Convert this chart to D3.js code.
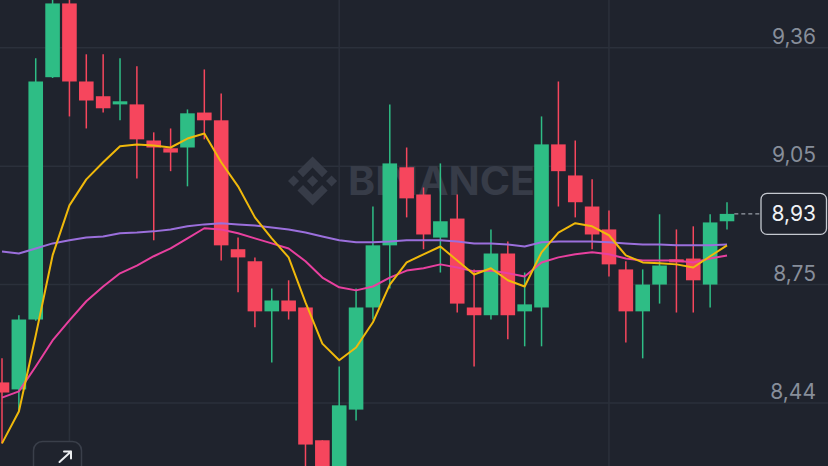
<!DOCTYPE html>
<html>
<head>
<meta charset="utf-8">
<script src="https://cdn.jsdelivr.net/npm/d3@7"></script>
<style>
  html, body { margin: 0; padding: 0; background: #1f232d; overflow: hidden; }
  svg { display: block; }
</style>
</head>
<body>
<svg id="chart" width="828" height="466"></svg>
<script>
// ---- Data ----
const openV  = [8.496, 8.478, 8.658, 9.282, 9.472, 9.271, 9.233, 9.212, 9.212, 9.119, 9.099, 9.101, 9.191, 9.171, 8.839, 8.808, 8.679, 8.707, 8.689, 8.347, 8.244, 8.426, 8.689, 8.849, 9.050, 8.980, 8.869, 8.918, 8.689, 8.669, 8.828, 8.679, 8.689, 9.109, 9.029, 8.949, 8.890, 8.787, 8.679, 8.748, 8.813, 8.815, 8.748, 8.911];
const highV  = [8.558, 8.669, 9.331, 9.490, 9.490, 9.341, 9.341, 9.331, 9.310, 9.140, 9.150, 9.199, 9.302, 9.240, 8.869, 8.818, 8.738, 8.759, 8.689, 8.347, 8.537, 8.738, 8.949, 9.212, 9.101, 8.998, 9.060, 8.980, 8.787, 8.890, 8.859, 8.779, 9.181, 9.271, 9.119, 9.019, 8.939, 8.808, 8.787, 8.929, 8.890, 8.898, 8.929, 8.960];
const lowV   = [8.339, 8.424, 8.655, 9.280, 9.181, 9.150, 9.191, 9.171, 9.021, 8.862, 9.040, 9.001, 9.122, 8.810, 8.728, 8.638, 8.547, 8.658, 8.269, 8.220, 8.220, 8.398, 8.658, 8.738, 8.921, 8.839, 8.779, 8.676, 8.537, 8.658, 8.607, 8.589, 8.589, 8.949, 8.921, 8.839, 8.769, 8.599, 8.558, 8.699, 8.676, 8.676, 8.689, 8.890];
const closeV = [8.470, 8.658, 9.271, 9.472, 9.271, 9.222, 9.202, 9.220, 9.122, 9.101, 9.088, 9.189, 9.171, 8.849, 8.818, 8.679, 8.707, 8.679, 8.336, 8.244, 8.437, 8.689, 8.849, 9.060, 8.970, 8.877, 8.911, 8.699, 8.669, 8.828, 8.669, 8.697, 9.109, 9.040, 8.960, 8.877, 8.800, 8.679, 8.748, 8.797, 8.805, 8.759, 8.908, 8.930];

const ma7  = [8.339, 8.421, 8.617, 8.823, 8.952, 9.019, 9.063, 9.104, 9.109, 9.106, 9.101, 9.124, 9.137, 9.063, 9.001, 8.921, 8.867, 8.818, 8.702, 8.596, 8.553, 8.586, 8.651, 8.748, 8.805, 8.826, 8.846, 8.810, 8.774, 8.790, 8.759, 8.743, 8.831, 8.882, 8.906, 8.898, 8.875, 8.823, 8.805, 8.803, 8.800, 8.792, 8.821, 8.849];
const ma25 = [8.457, 8.473, 8.537, 8.604, 8.656, 8.705, 8.743, 8.777, 8.797, 8.821, 8.841, 8.867, 8.893, 8.890, 8.880, 8.867, 8.854, 8.841, 8.808, 8.766, 8.741, 8.733, 8.743, 8.766, 8.784, 8.790, 8.800, 8.792, 8.782, 8.784, 8.777, 8.769, 8.805, 8.818, 8.826, 8.831, 8.826, 8.815, 8.810, 8.810, 8.810, 8.805, 8.815, 8.823];
const ma99 = [8.833, 8.828, 8.841, 8.854, 8.862, 8.869, 8.872, 8.880, 8.882, 8.885, 8.890, 8.898, 8.903, 8.906, 8.903, 8.900, 8.895, 8.890, 8.882, 8.872, 8.862, 8.857, 8.857, 8.859, 8.862, 8.862, 8.862, 8.859, 8.854, 8.854, 8.851, 8.846, 8.857, 8.859, 8.859, 8.859, 8.857, 8.854, 8.851, 8.851, 8.849, 8.849, 8.849, 8.851];

const yTicks = [9.358, 9.053, 8.748, 8.443];
const xGridIdx = [4, 20, 36];
const lastPrice = 8.93;

// ---- Setup ----
const W = 828, H = 466;
const svg = d3.select("#chart");
const n = openV.length;
const x = d3.scaleLinear().domain([0, n - 1]).range([2, 727]);
const y = d3.scaleLinear().domain([8.443, 9.358]).range([403, 47.7]);
const bw = 14.6;
const fmt = v => d3.format(".2f")(v).replace(".", ",");

const BG = "#1f232d", GRID = "#2b303b";
const UP = "#2ebd85", DOWN = "#f6465d";

svg.append("rect").attr("width", W).attr("height", H).attr("fill", BG);

// grid
svg.append("g").selectAll("line").data(yTicks).join("line")
  .attr("x1", 0).attr("x2", W)
  .attr("y1", d => y(d)).attr("y2", d => y(d))
  .attr("stroke", GRID).attr("stroke-width", 1.5);
svg.append("g").selectAll("line").data(xGridIdx).join("line")
  .attr("x1", d => x(d)).attr("x2", d => x(d))
  .attr("y1", 0).attr("y2", H)
  .attr("stroke", GRID).attr("stroke-width", 1.5);

// watermark
const wm = svg.append("g").attr("fill", "#373c48");
const logo = wm.append("g").attr("transform", "translate(288,156.5) scale(0.388)");
["M38.73 53.2l24.59-24.58 24.6 24.6 14.3-14.31L63.32 0 24.42 38.9l14.31 14.3z",
 "M0 63.31l14.3-14.31 14.31 14.31-14.31 14.3z",
 "M38.73 73.41l24.59 24.59 24.6-24.6 14.31 14.29-38.9 38.91-38.91-38.88-.02-.02z",
 "M98 63.31l14.3-14.31 14.31 14.3-14.31 14.32z",
 "M77.83 63.3L63.32 48.78 52.59 59.51l-1.24 1.23-2.54 2.54-.02.02.02.03 14.51 14.5 14.51-14.52.01-.01z"
].forEach(p => logo.append("path").attr("d", p));
wm.append("text").attr("x", 348).attr("y", 195)
  .attr("font-family", "Inter, 'Open Sans', sans-serif").attr("font-weight", 700)
  .attr("font-size", 39).attr("textLength", 187).attr("lengthAdjust", "spacingAndGlyphs")
  .text("BINANCE");

// candles
const data = d3.range(n).map(i => ({i, o: openV[i], h: highV[i], l: lowV[i], c: closeV[i]}));
const cg = svg.append("g");
cg.selectAll("line").data(data).join("line")
  .attr("x1", d => x(d.i)).attr("x2", d => x(d.i))
  .attr("y1", d => y(d.h)).attr("y2", d => y(d.l))
  .attr("stroke", d => d.c >= d.o ? UP : DOWN).attr("stroke-width", 1.5);
cg.selectAll("rect").data(data).join("rect")
  .attr("x", d => x(d.i) - bw / 2).attr("width", bw)
  .attr("y", d => y(Math.max(d.o, d.c)))
  .attr("height", d => Math.max(1, Math.abs(y(d.o) - y(d.c))))
  .attr("fill", d => d.c >= d.o ? UP : DOWN);

// moving averages
const line = d3.line().x((d, i) => x(i)).y(d => y(d));
[[ma99, "#9b6fdc"], [ma25, "#e8409f"], [ma7, "#f0b90b"]].forEach(([arr, col]) => {
  svg.append("path").attr("d", line(arr)).attr("fill", "none")
    .attr("stroke", col).attr("stroke-width", 2).attr("stroke-linejoin", "round");
});

// last price dashed line + label
const py = y(lastPrice);
svg.append("line").attr("x1", x(n - 1) + bw / 2).attr("x2", 760)
  .attr("y1", py).attr("y2", py)
  .attr("stroke", "#b7bdc6").attr("stroke-width", 1).attr("stroke-dasharray", "4,3");
svg.append("rect").attr("x", 761).attr("y", py - 20.5).attr("width", 65.5).attr("height", 41)
  .attr("rx", 6).attr("fill", BG).attr("stroke", "#c4c8cf").attr("stroke-width", 1.3);
svg.append("text").attr("x", 816).attr("y", py + 7.5).attr("text-anchor", "end")
  .attr("font-family", "Inter, sans-serif").attr("font-size", 21).attr("fill", "#f0f2f5")
  .text(fmt(lastPrice));

// axis labels
svg.append("g").selectAll("text").data(yTicks).join("text")
  .attr("x", 816).attr("y", d => y(d) - 4).attr("text-anchor", "end")
  .attr("font-family", "Inter, sans-serif").attr("font-size", 21).attr("fill", "#878e9a")
  .text(d => fmt(d));

// bottom-left button
svg.append("rect").attr("x", 33.5).attr("y", 441.5).attr("width", 48).attr("height", 40)
  .attr("rx", 9).attr("fill", BG).attr("stroke", "#3a3f4a").attr("stroke-width", 1.5);
svg.append("path").attr("d", "M59.5 462 L71 451.5 M64 451.5 L71 451.5 L71 458.5")
  .attr("fill", "none").attr("stroke", "#eaecef").attr("stroke-width", 2)
  .attr("stroke-linecap", "round").attr("stroke-linejoin", "round");
</script>
</body>
</html>
